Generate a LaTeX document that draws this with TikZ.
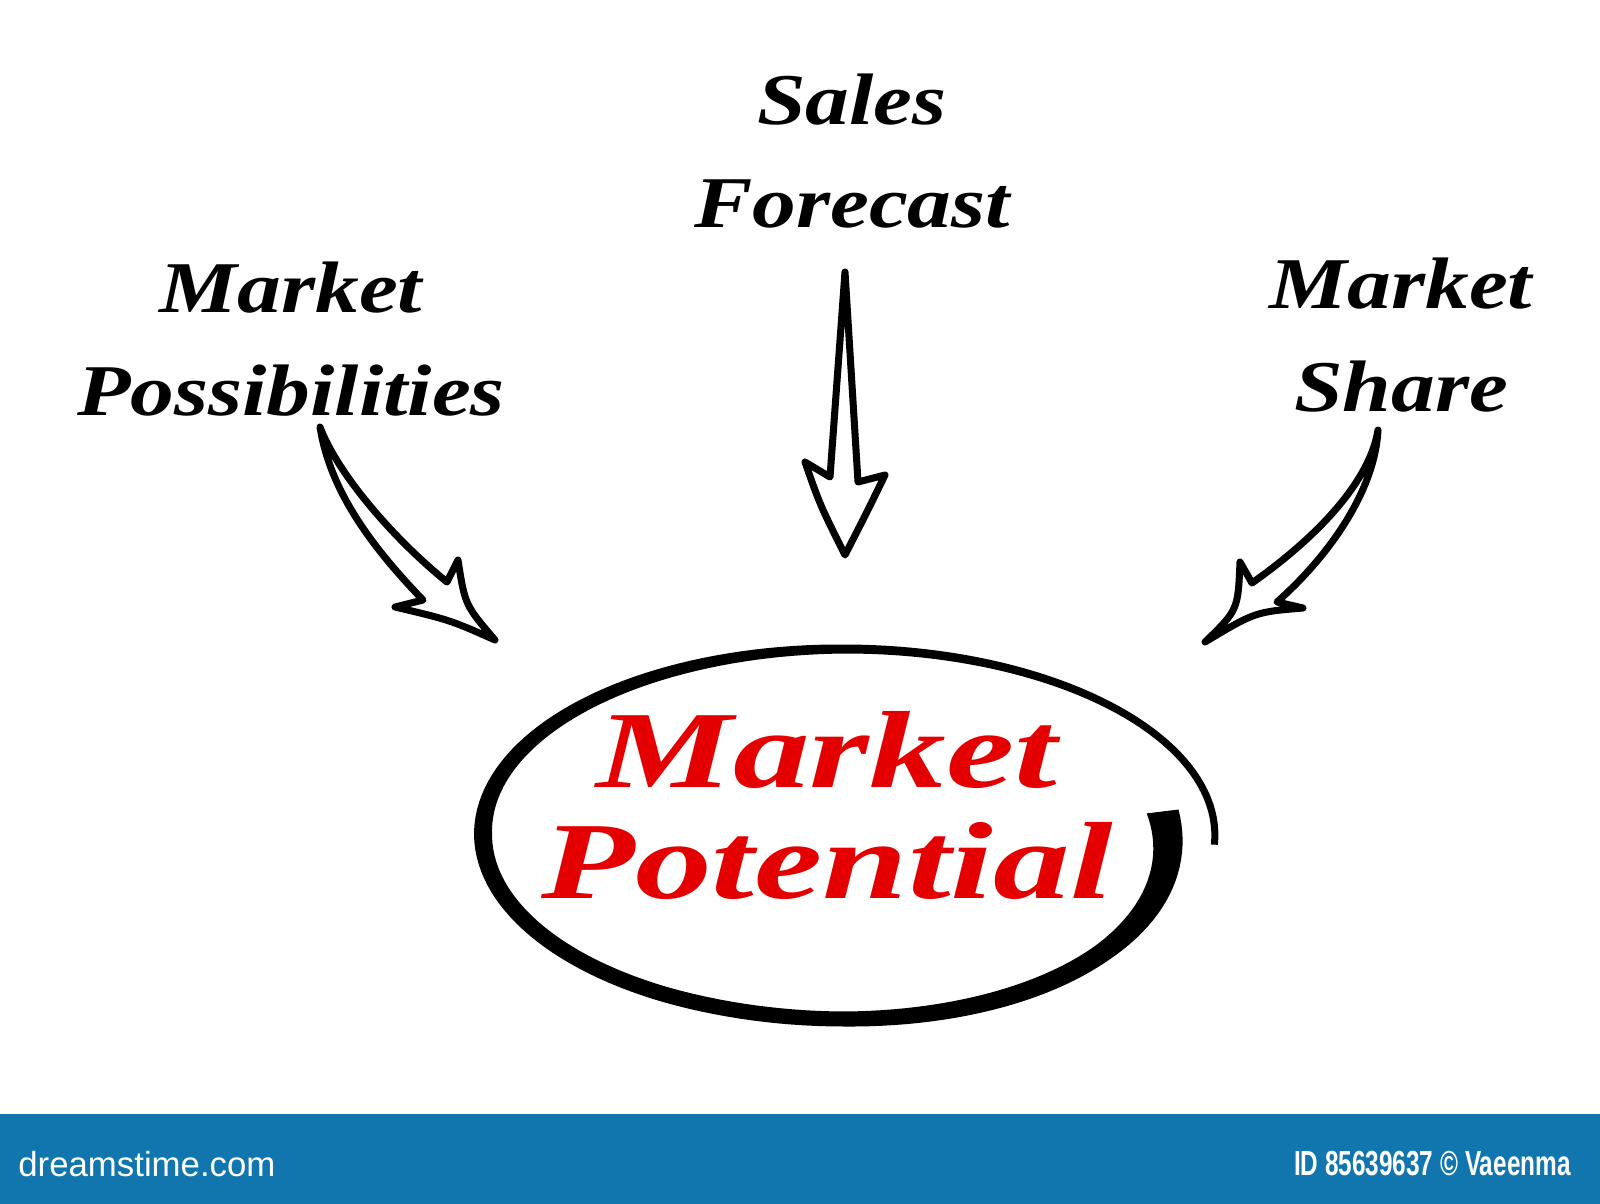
\documentclass[tikz,border=0pt]{standalone}
\usepackage{fontspec}
\newfontfamily\labelfont[FakeStretch=1.2]{Liberation Serif}
\newfontfamily\goalfont[FakeStretch=1.4]{Liberation Serif}
\newfontfamily\sitefont{Liberation Sans}
\newfontfamily\idfont[FakeStretch=0.7]{Liberation Sans}
\usetikzlibrary{positioning}
\definecolor{potred}{RGB}{228,0,0}
\definecolor{barblue}{RGB}{16,118,173}
\tikzstyle{factor}=[font=\labelfont\bfseries\itshape\fontsize{41.5}{58.4}\selectfont,align=center,inner sep=0pt,anchor=base]
\tikzstyle{goal}=[factor,font=\goalfont\bfseries\itshape\fontsize{62.4}{62.9}\selectfont,text=potred]
\tikzstyle{hollow}=[draw,line width=4pt,line join=round,fill=white]
\tikzstyle{bartext}=[text=white,inner sep=0pt,anchor=base]

\begin{document}
\begin{tikzpicture}[x=0.02cm,y=-0.02cm,
  declare function={ra(\t)=320+42*min(1,(\t+7)/127)+8*max(0,(\t-180)/183);
    wd(\t)=ifthenelse(\t<40,32-12*(\t+7)/47,ifthenelse(\t<90,20-5*(\t-40)/50,
      ifthenelse(\t<180,15+3*(\t-90)/90,ifthenelse(\t<270,18-9*(\t-180)/90,9-2*(\t-270)/93))));}]
\useasboundingbox (0,0) rectangle (1600,1204);

\node (sales) [factor] at (852,227) {Sales\\Forecast} ;
\node (poss) [factor] at (291,415) {Market\\Possibilities} ;
\node (share) [factor] at (1401,411) {Market\\Share} ;
\node (potential) [goal] at (827,898) {Market\\Potential} ;

% ring round the goal
\fill plot[domain=-7:363.3,samples=180] ({845+(ra(\x)+wd(\x)/2)*cos(\x)},{834+(185+wd(\x)/2)*sin(\x)})
  -- plot[domain=363.3:-7,samples=180] ({845+(ra(\x)-wd(\x)/2)*cos(\x)},{834+(185-wd(\x)/2)*sin(\x)}) -- cycle ;

\coordinate (poss-tail) at (320,427) ;
\coordinate (poss-tip) at (495,640) ;
\coordinate (sales-tail) at (845,272) ;
\coordinate (sales-tip) at (845,555) ;
\coordinate (share-tail) at (1378,430) ;
\coordinate (share-tip) at (1205,642) ;

\draw [hollow] (poss-tail) .. controls (338,475) and (395,540) .. (447,582) -- (458,560)
  .. controls (465,605) .. (poss-tip) .. controls (450,620) .. (395,607) -- (423,600)
  .. controls (370,545) and (330,490) .. cycle ;
\draw [hollow] (sales-tail) -- (830,477) -- (805,462) .. controls (820,505) .. (sales-tip)
  .. controls (868,510) .. (885,475) -- (858,482) -- cycle ;
\draw [hollow] (share-tail) .. controls (1370,480) and (1320,535) .. (1252,583) -- (1240,562)
  .. controls (1238,610) .. (share-tip) .. controls (1255,612) .. (1303,608) -- (1277,602)
  .. controls (1330,555) and (1375,490) .. cycle ;

\fill [barblue] (0,1114) rectangle (1600,1204) ;
\node (site) [bartext,anchor=base west,font=\sitefont\fontsize{19.8}{22}\selectfont] at (18,1176) {dreamstime.com} ;
\node (credit) [bartext,anchor=base east,font=\idfont\bfseries\fontsize{19.8}{22}\selectfont] at (1571,1175) {ID 85639637 © Vaeenma} ;

\end{tikzpicture}
\end{document}
